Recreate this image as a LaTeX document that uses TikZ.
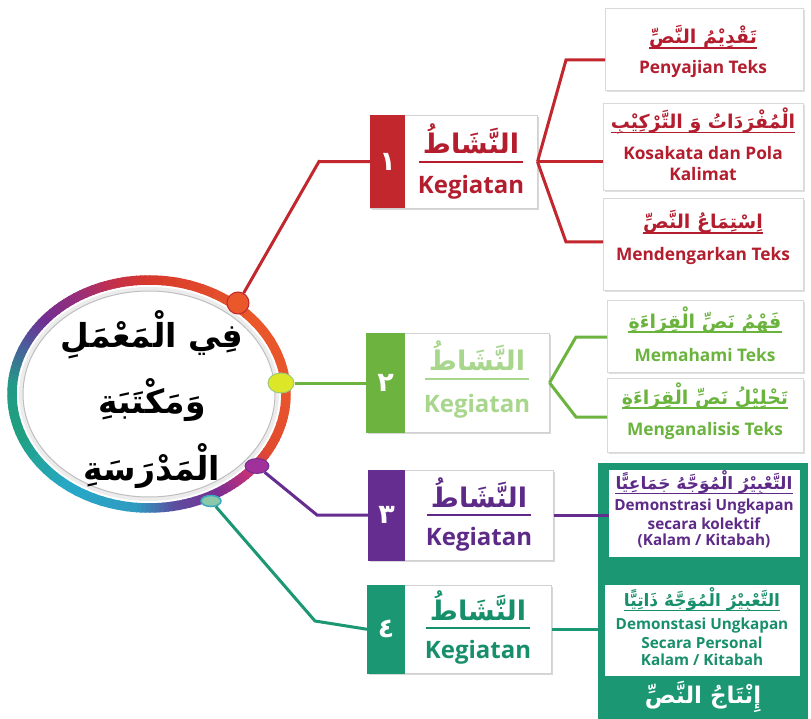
\documentclass[tikz,border=0pt]{standalone}
\usepackage{fontspec}
\setmainfont{Open Sans}
\newfontfamily\arabicfont[Script=Arabic]{DejaVu Sans}
\TeXXeTstate=1
\usetikzlibrary{shadows,calc,shapes.geometric}
\definecolor{cRed}{HTML}{C1272D}
\definecolor{cRedT}{HTML}{B31D2E}
\definecolor{cGreen}{HTML}{6DB33F}
\definecolor{cGreenT}{HTML}{6AB43E}
\definecolor{cGreenL}{HTML}{A8D68D}
\definecolor{cPurple}{HTML}{662D91}
\definecolor{cPurpleT}{HTML}{5E2A88}
\definecolor{cTeal}{HTML}{1B9773}
\definecolor{cTealT}{HTML}{188F6B}
\definecolor{g0}{HTML}{D7392C}
\definecolor{g1}{HTML}{E9572B}
\definecolor{g2}{HTML}{E9552C}
\definecolor{g3}{HTML}{E04A2E}
\definecolor{g4}{HTML}{C0307A}
\definecolor{g5}{HTML}{7B2E92}
\definecolor{g6}{HTML}{5A4FA0}
\definecolor{g7}{HTML}{2E9BC0}
\definecolor{g8}{HTML}{27A8C8}
\definecolor{g9}{HTML}{1FA07F}
\definecolor{g10}{HTML}{239A86}
\definecolor{g11}{HTML}{4B5C9C}
\definecolor{g12}{HTML}{702F92}
\definecolor{g13}{HTML}{9B2D78}
\definecolor{g14}{HTML}{C4304A}
\newcommand{\AR}[1]{\beginR #1\endR}
\begin{document}
\begin{tikzpicture}[x=1pt,y=-1pt,
  actbox/.style={draw=gray!35, line width=0.5pt, fill=white, anchor=north west, inner sep=0pt, drop shadow={opacity=0.3, shadow xshift=2pt, shadow yshift=-2pt}},
  rbox/.style={draw=gray!30, line width=0.5pt, fill=white, anchor=north west, inner sep=0pt, drop shadow={opacity=0.25, shadow xshift=1.5pt, shadow yshift=-1.5pt}},
  wbox/.style={fill=white, anchor=north west, inner sep=0pt},
  acttitle/.style={font=\arabicfont\bfseries\fontsize{27}{30}\selectfont, inner sep=0pt},
  keg/.style={font=\bfseries\fontsize{24}{26}\selectfont, inner sep=0pt},
  num/.style={font=\arabicfont\bfseries\fontsize{27}{28}\selectfont, text=white, inner sep=0pt},
  rtitle/.style={font=\arabicfont\bfseries\fontsize{19}{22}\selectfont, inner sep=0pt},
  rlat/.style={font=\bfseries\fontsize{17.3}{19}\selectfont, inner sep=0pt},
  plat/.style={font=\bfseries\fontsize{15.3}{16}\selectfont, inner sep=0pt},
  ctext/.style={font=\arabicfont\bfseries\fontsize{33}{40}\selectfont, inner sep=0pt},
  conn/.style={line width=3pt},
  uline/.style={line width=1.4pt},
]
\useasboundingbox (0,0) rectangle (811,719);
\fill[white] (0,0) rectangle (811,719);

% ---- central ring
\def\cx{149}\def\cy{394}\def\rx{137}\def\ry{114}
\fill[white] (\cx,\cy) ellipse [x radius=\rx, y radius=\ry];
\foreach \aa/\bb/\ca/\cb in {-90/-45/g0/g1, -45/0/g1/g2, 0/30/g2/g3, 30/45/g3/g4, 45/60/g4/g5, 60/80/g5/g6, 80/95/g6/g7, 95/125/g7/g8, 125/160/g8/g9, 160/185/g9/g10, 185/205/g10/g11, 205/220/g11/g12, 220/240/g12/g13, 240/255/g13/g14, 255/270/g14/g0}{
  \foreach \i in {0,...,7}{
    \pgfmathsetmacro\sa{\aa+(\bb-\aa)*\i/8}
    \pgfmathsetmacro\ea{\aa+(\bb-\aa)*(\i+1)/8+0.6}
    \pgfmathtruncatemacro\pp{100-(\i*100/8+6)}
    \draw[line width=9.5pt, color=\ca!\pp!\cb] ({\cx+\rx*cos(\sa)},{\cy+\ry*sin(\sa)}) arc[start angle=\sa, end angle=\ea, x radius=\rx, y radius=\ry];
  }
}
\draw[gray!15, line width=4pt] (\cx,\cy) ellipse [x radius=\rx-9, y radius=\ry-9];
\draw[gray!50, line width=1pt] (\cx,\cy) ellipse [x radius=\rx-11, y radius=\ry-11];

\node[ctext] (C1) at (152,335) {\AR{فِي الْمَعْمَلِ}};
\node[ctext] (C2) at (152,400) {\AR{وَمَكْتَبَةِ}};
\node[ctext] (C3) at (152,466) {\AR{الْمَدْرَسَةِ}};

% ---- dots
\node[circle, fill=g1, draw=cRed, line width=1pt, minimum size=22pt, inner sep=0pt] (D1) at (238,303) {};
\node[ellipse, fill={rgb,255:red,222;green,230;blue,40}, draw=cGreen!70, line width=1pt, minimum width=26pt, minimum height=20pt, inner sep=0pt] (D2) at (281,383) {};
\node[ellipse, fill={rgb,255:red,160;green,48;blue,154}, draw=cPurple, line width=0.8pt, minimum width=24pt, minimum height=15pt, inner sep=0pt] (D3) at (257,466) {};
\node[ellipse, fill={rgb,255:red,140;green,200;blue,170}, draw={rgb,255:red,60;green,170;blue,190}, line width=1.5pt, minimum width=20pt, minimum height=11pt, inner sep=0pt] (D4) at (211,501) {};

% ---- activity boxes
\node[actbox, minimum width=167pt, minimum height=93pt] (A1) at (370,115) {};
\fill[cRed] (A1.north west) rectangle ($(A1.south west)+(35,0)$);
\node[num] (N1) at ($(A1.west)+(17.5,0)$) {١};
\node[acttitle, text=cRedT] (T1) at (471,139) {\AR{النَّشَاطُ}};
\draw[uline, cRedT] (419,162) -- (523,162);
\node[keg, text=cRedT] (K1) at (471,187) {Kegiatan};

\node[actbox, minimum width=183pt, minimum height=99pt] (A2) at (366,333) {};
\fill[cGreen] (A2.north west) rectangle ($(A2.south west)+(39,0)$);
\node[num] (N2) at ($(A2.west)+(19.5,0)$) {٢};
\node[acttitle, text=cGreenL] (T2) at (477,356) {\AR{النَّشَاطُ}};
\draw[uline, cGreenL] (425,379) -- (529,379);
\node[keg, text=cGreenL] (K2) at (477,406) {Kegiatan};

\node[actbox, minimum width=185pt, minimum height=90pt] (A3) at (368,470) {};
\fill[cPurple] (A3.north west) rectangle ($(A3.south west)+(37,0)$);
\node[num] (N3) at ($(A3.west)+(18.5,0)$) {٣};
\node[acttitle, text=cPurpleT] (T3) at (479,493) {\AR{النَّشَاطُ}};
\draw[uline, cPurpleT] (427,515) -- (531,515);
\node[keg, text=cPurpleT] (K3) at (479,539) {Kegiatan};

\node[actbox, minimum width=184pt, minimum height=88pt] (A4) at (367,585) {};
\fill[cTeal] (A4.north west) rectangle ($(A4.south west)+(38,0)$);
\node[num] (N4) at ($(A4.west)+(19,0)$) {٤};
\node[acttitle, text=cTealT] (T4) at (478,606) {\AR{النَّشَاطُ}};
\draw[uline, cTealT] (426,628) -- (530,628);
\node[keg, text=cTealT] (K4) at (478,652) {Kegiatan};

% ---- right red boxes
\node[rbox, minimum width=198pt, minimum height=82pt] (R1) at (605,8) {};
\node[rtitle, text=cRedT] (R1a) at (703,37) {\AR{تَقْدِيْمُ النَّصِّ}};
\draw[uline, cRedT] ([yshift=-4pt]R1a.base west) -- ([yshift=-4pt]R1a.base east);
\node[rlat, text=cRedT] (R1b) at (703,69) {Penyajian Teks};

\node[rbox, minimum width=200pt, minimum height=87pt] (R2) at (603,103) {};
\node[rtitle, text=cRedT] (R2a) at (703,121) {\AR{الْمُفْرَدَاتُ وَ التَّرْكِيْبِ}};
\draw[uline, cRedT] ([yshift=-4pt]R2a.base west) -- ([yshift=-4pt]R2a.base east);
\node[rlat, text=cRedT] (R2b) at (703,153) {Kosakata dan Pola};
\node[rlat, text=cRedT] (R2c) at (703,174) {Kalimat};

\node[rbox, minimum width=200pt, minimum height=92pt] (R3) at (603,198) {};
\node[rtitle, text=cRedT] (R3a) at (703,222) {\AR{اِسْتِمَاعُ النَّصِّ}};
\draw[uline, cRedT] ([yshift=-4pt]R3a.base west) -- ([yshift=-4pt]R3a.base east);
\node[rlat, text=cRedT] (R3b) at (703,256) {Mendengarkan Teks};

% ---- right green boxes
\node[rbox, minimum width=196pt, minimum height=72pt] (G1) at (607,300) {};
\node[rtitle, text=cGreenT] (G1a) at (705,320) {\AR{فَهْمُ نَصِّ الْقِرَاءَةِ}};
\draw[uline, cGreenT] ([yshift=-4pt]G1a.base west) -- ([yshift=-4pt]G1a.base east);
\node[rlat, text=cGreenT] (G1b) at (705,355) {Memahami Teks};

\node[rbox, minimum width=196pt, minimum height=74pt] (G2) at (607,378) {};
\node[rtitle, text=cGreenT] (G2a) at (705,396) {\AR{تَحْلِيْلُ نَصِّ الْقِرَاءَةِ}};
\draw[uline, cGreenT] ([yshift=-4pt]G2a.base west) -- ([yshift=-4pt]G2a.base east);
\node[rlat, text=cGreenT] (G2b) at (705,431) {Menganalisis Teks};

% ---- teal panel
\node[fill=cTeal, anchor=north west, minimum width=210pt, minimum height=256pt, inner sep=0pt] (PN) at (598,463) {};
\node[wbox, minimum width=191pt, minimum height=87pt] (P1) at (609,470) {};
\node[rtitle, text=cPurpleT, font=\arabicfont\bfseries\fontsize{17}{20}\selectfont] (P1a) at (704,483) {\AR{التَّعْبِيْرُ الْمُوَجَّهُ جَمَاعِيًّا}};
\draw[uline, cPurpleT] ([yshift=-4pt]P1a.base west) -- ([yshift=-4pt]P1a.base east);
\node[plat, text=cPurpleT] (P1b) at (704,507) {Demonstrasi Ungkapan};
\node[plat, text=cPurpleT] (P1c) at (704,524) {secara kolektif};
\node[plat, text=cPurpleT] (P1d) at (704,541) {(Kalam / Kitabah)};

\node[wbox, minimum width=195pt, minimum height=91pt] (P2) at (605,585) {};
\node[rtitle, text=cTealT, font=\arabicfont\bfseries\fontsize{17}{20}\selectfont] (P2a) at (702,600) {\AR{التَّعْبِيْرُ الْمُوَجَّهُ ذَاتِيًّا}};
\draw[uline, cTealT] ([yshift=-4pt]P2a.base west) -- ([yshift=-4pt]P2a.base east);
\node[plat, text=cTealT] (P2b) at (702,626) {Demonstasi Ungkapan};
\node[plat, text=cTealT] (P2c) at (702,643) {Secara Personal};
\node[plat, text=cTealT] (P2d) at (702,660) {Kalam / Kitabah};
\node[rtitle, text=white, font=\arabicfont\bfseries\fontsize{23}{26}\selectfont] (PL) at (703,697) {\AR{إِنْتَاجُ النَّصِّ}};

% ---- connectors
\coordinate (k1) at (319,161.5);
\draw[conn, cRed] (D1) -- (k1) -- (A1);
\draw[conn, cGreen] (D2) -- (A2.west |- D2);
\coordinate (k3) at (317,515);
\draw[conn, cPurple] (D3) -- (k3) -- (A3);
\coordinate (k4) at (315,621);
\draw[conn, cTeal] (D4) -- (k4) -- (A4.west);

\coordinate (u1) at (566,60);
\coordinate (l1) at (566,242);
\draw[conn, cRed] (A1.east) -- (u1) -- (R1.west |- u1);
\draw[conn, cRed] (A1.east) -- (R2.west |- A1.east);
\draw[conn, cRed] (A1.east) -- (l1) -- (R3.west |- l1);

\coordinate (u2) at (576,337);
\coordinate (l2) at (576,417);
\draw[conn, cGreen] (A2.east) -- (u2) -- (G1.west |- u2);
\draw[conn, cGreen] (A2.east) -- (l2) -- (G2.west |- l2);

\draw[conn, cPurple] (A3.east) -- (P1.west |- A3.east);
\draw[conn, cTeal] (A4.east) -- (PN.west |- A4.east);
\end{tikzpicture}
\end{document}
